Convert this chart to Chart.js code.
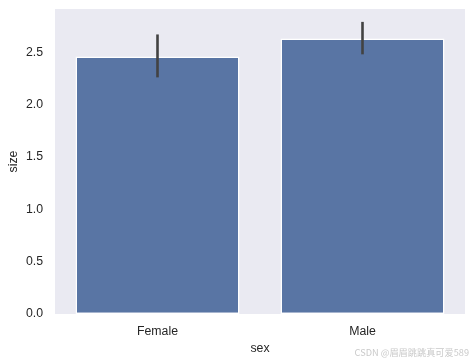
<!DOCTYPE html>
<html>
<head>
<meta charset="utf-8">
<script src="https://cdn.jsdelivr.net/npm/chart.js@4/dist/chart.umd.min.js"></script>
<style>
html,body{margin:0;padding:0;background:#fff;}
#wrap{width:474px;height:363px;position:relative;}
</style>
</head>
<body>
<div id="wrap"><canvas id="c" width="474" height="363"></canvas></div>
<script>
const categories = ["Female", "Male"];
const meanSize = [2.459, 2.632];
const ciLow = [2.26, 2.48];
const ciHigh = [2.67, 2.79];
const yTicks = [0.0, 0.5, 1.0, 1.5, 2.0, 2.5];
const watermark = "CSDN @眉眉跳跳真可爱589";

const FONT = "'Liberation Sans', Arial, sans-serif";
const FS = 12.3;

const bgPlugin = {
  id: 'bg',
  beforeDraw(chart) {
    const {ctx, chartArea: a} = chart;
    ctx.save();
    ctx.fillStyle = '#EAEAF2';
    ctx.fillRect(a.left, a.top, a.right - a.left, a.bottom - a.top);
    ctx.restore();
  }
};

const errPlugin = {
  id: 'err',
  afterDatasetsDraw(chart) {
    const {ctx, scales: {x, y}} = chart;
    ctx.save();
    ctx.strokeStyle = '#424242';
    ctx.lineWidth = 2.6;
    ctx.lineCap = 'butt';
    categories.forEach((c, i) => {
      const px = x.getPixelForValue(i);
      ctx.beginPath();
      ctx.moveTo(px, y.getPixelForValue(ciLow[i]));
      ctx.lineTo(px, y.getPixelForValue(ciHigh[i]));
      ctx.stroke();
    });
    ctx.restore();
  }
};

const wmPlugin = {
  id: 'wm',
  afterDraw(chart) {
    const {ctx} = chart;
    ctx.save();
    ctx.font = "9.2px 'Noto Sans CJK SC', sans-serif";
    ctx.fillStyle = 'rgba(195,195,195,0.9)';
    ctx.textAlign = 'right';
    ctx.textBaseline = 'middle';
    ctx.fillText(watermark, 469, 353);
    ctx.restore();
  }
};

new Chart(document.getElementById('c'), {
  type: 'bar',
  data: {
    labels: categories,
    datasets: [{
      data: meanSize,
      backgroundColor: '#5975A4',
      borderColor: '#FFFFFF',
      borderWidth: 1.5,
      borderSkipped: false,
      barPercentage: 0.8,
      categoryPercentage: 1.0
    }]
  },
  options: {
    responsive: false,
    animation: false,
    devicePixelRatio: 1,
    layout: {padding: {left: 6, top: 9, right: 9, bottom: 7}},
    plugins: {legend: {display: false}, tooltip: {enabled: false}},
    scales: {
      x: {
        grid: {display: false, drawTicks: false},
        border: {display: false},
        ticks: {color: '#262626', font: {family: FONT, size: FS}, padding: 10.5},
        title: {display: true, text: 'sex', color: '#262626', font: {family: FONT, size: FS}, padding: {top: 2, bottom: 0}},
        afterFit(s) { s.height = 42; s.paddingLeft = 0; s.paddingRight = 0; }
      },
      y: {
        min: 0, max: 2.913,
        grid: {display: false, drawTicks: false},
        border: {display: false},
        afterBuildTicks(s) { s.ticks = yTicks.map(v => ({value: v})); },
        ticks: {color: '#262626', font: {family: FONT, size: FS}, padding: 12,
          callback: v => Number(v).toFixed(1)},
        title: {display: true, text: 'size', color: '#262626', font: {family: FONT, size: FS}, padding: {top: 0, bottom: 0}},
        afterFit(s) { s.width = 49; s.paddingTop = 0; s.paddingBottom = 0; }
      }
    }
  },
  plugins: [bgPlugin, errPlugin, wmPlugin]
});
</script>
</body>
</html>
